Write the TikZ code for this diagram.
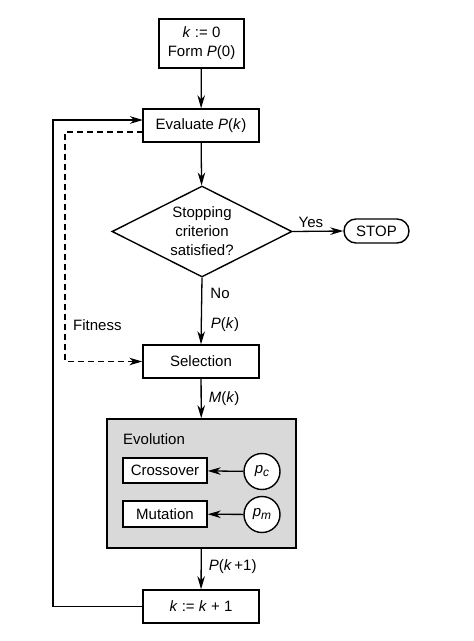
\documentclass[tikz,border=0pt]{standalone}
\usepackage{fontspec}
\setmainfont{Liberation Sans}
\usetikzlibrary{arrows.meta,shapes.geometric,calc}
\newcommand{\subit}[1]{\raisebox{-0.35ex}{\fontsize{12}{12}\selectfont\textit{#1}}}
\begin{document}
\begin{tikzpicture}[x=1pt,y=-1pt,
  every node/.style={font=\fontsize{15}{19}\selectfont, inner sep=0pt},
  box/.style={draw, line width=1.4pt, rectangle, align=center},
  arr/.style={line width=1.3pt, -{Stealth[length=13pt,width=7.5pt,inset=4pt]}},
  lbl/.style={anchor=west},
]
\useasboundingbox (0,0) rectangle (474,641);
% nodes
\node[box, minimum width=85pt, minimum height=49pt] (init) at (201.5,43.5)
  {\textit{k} := 0\\Form \textit{P}(0)};
\node[box, minimum width=116pt, minimum height=33pt] (eval) at (201,125.5)
  {Evaluate \textit{P}(\textit{k})};
\node[draw, line width=1.4pt, diamond, aspect=1.98, minimum width=180pt, minimum height=91pt] (dec) at (202,231.5) {};
\node[align=center] (dectext) at (dec.center) {Stopping\\criterion\\satisfied?};
\node[box, rounded corners=12pt, minimum width=65pt, minimum height=24pt] (stop) at (376.5,231) {STOP};
\node[box, minimum width=116pt, minimum height=33pt] (sel) at (201,361.5) {Selection};
\node[box, fill=gray!30, minimum width=189pt, minimum height=129pt] (evo) at (201.5,483.5) {};
\node[anchor=west] (evolbl) at (123,439) {Evolution};
\node[box, fill=white, minimum width=84pt, minimum height=25pt] (cross) at (165,470.5) {Crossover};
\node[box, fill=white, minimum width=84pt, minimum height=26pt] (mut) at (165,514) {Mutation};
\node[draw, line width=1.4pt, circle, fill=white, minimum size=36pt] (pc) at (262,471.5) {\textit{p}\subit{c}};
\node[draw, line width=1.4pt, circle, fill=white, minimum size=36pt] (pm) at (262,514.5) {\textit{p}\subit{m}};
\node[box, minimum width=116pt, minimum height=33pt] (kinc) at (201,606.5) {\textit{k} := \textit{k} + 1};
\node[anchor=west] (fit) at (73,325) {Fitness};
% coordinates
\coordinate (evalin) at (143,120);
\coordinate (evalout) at (143,132);
\coordinate (fbx) at (53,606.5);
\coordinate (dashx) at (65,132);
% connectors
\draw[arr] (init) -- (eval);
\draw[arr] (eval) -- (dec);
\draw[arr] (dec.east) -- node[pos=0.36, above=3pt] (yes) {Yes} (stop.west);
\draw[arr] (dec.south) -- node[pos=0.23, lbl, xshift=8pt] (no) {No}
  node[pos=0.7, lbl, xshift=9pt] (pk) {\textit{P}(\textit{k})} (sel.north);
\draw[arr] (sel) -- node[pos=0.5, lbl, xshift=7pt] (mk) {\textit{M}(\textit{k})} (evo);
\draw[arr] (evo) -- node[pos=0.45, lbl, xshift=7pt] (pk1) {\textit{P}(\textit{k}\,+1)} (kinc);
\draw[arr] (pc) -- (cross);
\draw[arr] (pm) -- (mut);
\draw[arr] (kinc.west) -- (fbx) |- (evalin);
\draw[arr, dashed, dash pattern=on 6pt off 4pt] (evalout) -- (dashx) |- (sel.west);
\end{tikzpicture}
\end{document}
